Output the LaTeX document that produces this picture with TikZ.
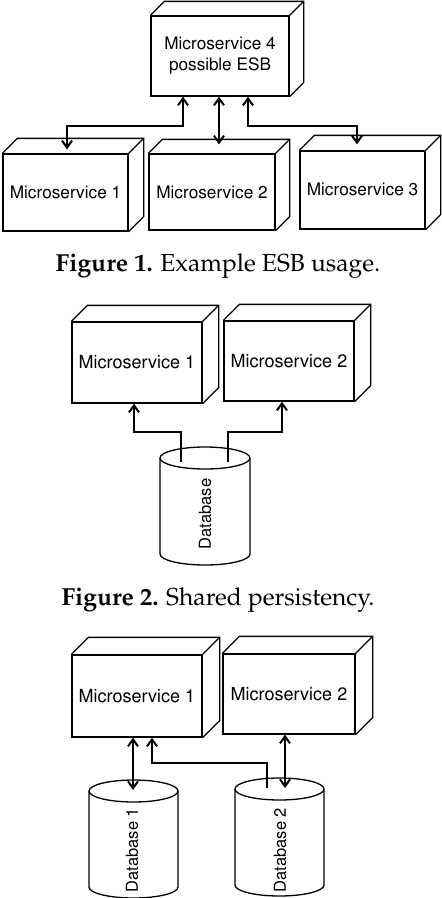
\documentclass[tikz,border=0pt]{standalone}
\usepackage[T1]{fontenc}
\usetikzlibrary{arrows.meta,calc}

% depth of a box drawn from its front face
\newcommand{\boxdepth}[2]{%
  \draw[boxline] (#1.north west) -- ++(#2,-#2) -- ($(#1.north east)+(#2,-#2)$) -- ($(#1.south east)+(#2,-#2)$) -- (#1.south east);
  \draw[boxline] (#1.north east) -- ++(#2,-#2);
}
% cylinder outline: x, top y, bottom y, radius
\newcommand{\drum}[4]{%
  \draw[boxline, fill=white] (#1-#4,#2) -- (#1-#4,#3) arc[start angle=180, end angle=360, x radius=#4pt, y radius=11pt] -- (#1+#4,#2);
  \draw[boxline] (#1,#2) ellipse[x radius=#4pt, y radius=11pt];
}

\begin{document}
\begin{tikzpicture}[x=1pt, y=-1pt,
    boxline/.style={line width=1.3pt, line join=miter},
    msbox/.style={draw, line width=1.3pt, fill=white, inner sep=0pt, align=center,
      font=\fontsize{17.2}{21}\fontfamily{phv}\selectfont},
    bigbox/.style={msbox, font=\fontsize{18}{22}\fontfamily{phv}\selectfont},
    dbtext/.style={rotate=90, font=\fontsize{16.5}{20}\fontfamily{phv}\selectfont},
    link/.style={line width=2pt, {Straight Barb[length=7pt,width=10pt]}-{Straight Barb[length=7pt,width=10pt]}},
    uplink/.style={line width=2pt, -{Straight Barb[length=7pt,width=10pt]}},
    caption/.style={font=\fontsize{24.6}{28}\fontfamily{ppl}\selectfont}
]
  \useasboundingbox (0,0) rectangle (442,898);
  \clip (0,0) rectangle (442,898);

  % Figure 1
  \node[msbox, minimum width=138, minimum height=80] (ms4) at (220,56) {Microservice 4\\possible ESB};
  \node[msbox, minimum width=125, minimum height=77] (ms1a) at (65.5,192.5) {Microservice 1};
  \node[msbox, minimum width=126, minimum height=76] (ms2a) at (212,192) {Microservice 2};
  \node[msbox, minimum width=125, minimum height=78] (ms3a) at (362.5,190) {Microservice 3};
  \boxdepth{ms4}{14}
  \boxdepth{ms1a}{15}
  \boxdepth{ms2a}{14}
  \boxdepth{ms3a}{15}

  \draw[link] ([xshift=-37pt]ms4.south) -- ++(0,29) -| ([shift={(1.5,-4)}]ms1a.north);
  \draw[link] ([xshift=-1pt]ms4.south) -- ([shift={(7,-9)}]ms2a.north);
  \draw[link] ([xshift=28pt]ms4.south) -- ++(0,29) -| ([shift={(-5.5,-6)}]ms3a.north);

  \node[caption] (cap1) at (218,266) {\textbf{Figure 1.} Example ESB usage.};

  % Figure 2
  \node[bigbox, minimum width=130, minimum height=81] (ms1b) at (137,362.5) {Microservice 1};
  \node[bigbox, minimum width=130, minimum height=80] (ms2b) at (289,361) {Microservice 2};
  \boxdepth{ms1b}{16}
  \boxdepth{ms2b}{16}

  \drum{205}{458}{554}{45}
  \node[dbtext] (db) at (205,514) {Database};
  \coordinate (dbtop) at (205,462);

  \draw[uplink] ([xshift=-24pt]dbtop) -- ++(0,-30) -| ([xshift=-3pt]ms1b.south);
  \draw[uplink] ([xshift=23pt]dbtop) -- ++(0,-30) -| ([xshift=-7pt]ms2b.south);

  \node[caption] (cap2) at (218,600) {\textbf{Figure 2.} Shared persistency.};

  % Figure 3
  \node[bigbox, minimum width=130, minimum height=82] (ms1c) at (137,696) {Microservice 1};
  \node[bigbox, minimum width=132, minimum height=80] (ms2c) at (289,694) {Microservice 2};
  \boxdepth{ms1c}{17}
  \boxdepth{ms2c}{17}

  \drum{133.5}{791}{887}{44.5}
  \drum{279.5}{789}{885}{44.5}
  \node[dbtext] (db1) at (132,850) {Database 1};
  \node[dbtext] (db2) at (280,850) {Database 2};
  \coordinate (db1top) at (133,790);
  \coordinate (db2top) at (285,788);

  \draw[link] ([xshift=-4pt]ms1c.south) -- (db1top);
  \draw[link] ([xshift=-4pt]ms2c.south) -- (db2top);
  \draw[uplink] ([xshift=-18pt]db2top) -- ++(0,-25) -| ([xshift=15pt]ms1c.south);
\end{tikzpicture}
\end{document}
